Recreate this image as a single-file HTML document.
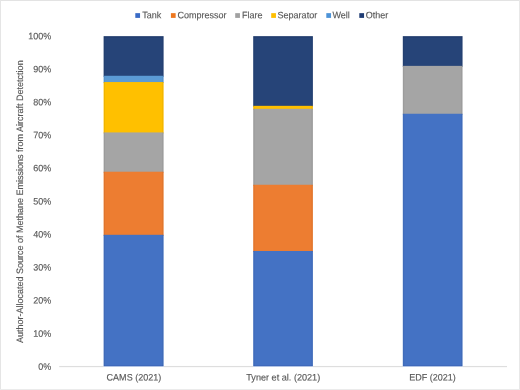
<!DOCTYPE html>
<html><head><meta charset="utf-8"><title>chart</title>
<style>
html,body{margin:0;padding:0;background:#fff;}
body{width:520px;height:390px;overflow:hidden;}
svg{display:block;position:absolute;left:0;top:0;}
text{font-family:"Liberation Sans",Arial,sans-serif;font-size:9.33px;fill:#595959;text-rendering:geometricPrecision;stroke:#595959;stroke-width:0.15px;}
</style></head><body>
<svg width="520" height="390" viewBox="0 0 520 390">
<rect x="0" y="0" width="520" height="390" fill="#fff"/>
<rect x="0" y="0" width="520" height="1" fill="#e3e3e3"/><rect x="0" y="0" width="1" height="390" fill="#e5e5e5"/><rect x="519" y="0" width="1" height="390" fill="#e8e8e8"/><rect x="0" y="389" width="520" height="1" fill="#ebebeb"/>

<rect x="59.2" y="365.95" width="447.8" height="1.2" fill="#dedede"/>
<rect x="103.6" y="366" width="60" height="2" fill="#fff"/>
<rect x="103.6" y="36.15" width="60" height="40.63" fill="#264478"/>
<rect x="103.6" y="75.78" width="60" height="7.27" fill="#5b9bd5"/>
<rect x="103.6" y="82.05" width="60" height="51.36" fill="#ffc000"/>
<rect x="103.6" y="132.42" width="60" height="40.30" fill="#a5a5a5"/>
<rect x="103.6" y="171.72" width="60" height="64.08" fill="#ed7d31"/>
<rect x="103.6" y="234.80" width="60" height="131.60" fill="#4472c4"/>
<rect x="253.2" y="366" width="59.7" height="2" fill="#fff"/>
<rect x="253.2" y="36.15" width="59.7" height="70.68" fill="#264478"/>
<rect x="253.2" y="105.83" width="59.7" height="3.97" fill="#ffc000"/>
<rect x="253.2" y="108.80" width="59.7" height="76.96" fill="#a5a5a5"/>
<rect x="253.2" y="184.76" width="59.7" height="67.22" fill="#ed7d31"/>
<rect x="253.2" y="250.98" width="59.7" height="115.42" fill="#4472c4"/>
<rect x="402.8" y="366" width="59.75" height="2" fill="#fff"/>
<rect x="402.8" y="36.15" width="59.75" height="30.72" fill="#264478"/>
<rect x="402.8" y="65.87" width="59.75" height="48.89" fill="#a5a5a5"/>
<rect x="402.8" y="113.76" width="59.75" height="252.64" fill="#4472c4"/>
<text transform="translate(51.2,369.70) rotate(0.03) scale(0.965,1)" text-anchor="end">0%</text>
<text transform="translate(51.2,336.64) rotate(0.03) scale(0.965,1)" text-anchor="end">10%</text>
<text transform="translate(51.2,303.59) rotate(0.03) scale(0.965,1)" text-anchor="end">20%</text>
<text transform="translate(51.2,270.53) rotate(0.03) scale(0.965,1)" text-anchor="end">30%</text>
<text transform="translate(51.2,237.48) rotate(0.03) scale(0.965,1)" text-anchor="end">40%</text>
<text transform="translate(51.2,204.42) rotate(0.03) scale(0.965,1)" text-anchor="end">50%</text>
<text transform="translate(51.2,171.37) rotate(0.03) scale(0.965,1)" text-anchor="end">60%</text>
<text transform="translate(51.2,138.31) rotate(0.03) scale(0.965,1)" text-anchor="end">70%</text>
<text transform="translate(51.2,105.26) rotate(0.03) scale(0.965,1)" text-anchor="end">80%</text>
<text transform="translate(51.2,72.20) rotate(0.03) scale(0.965,1)" text-anchor="end">90%</text>
<text transform="translate(51.2,39.15) rotate(0.03) scale(0.965,1)" text-anchor="end">100%</text>
<rect x="103.89999999999999" y="36.449999999999996" width="1.1" height="329.65" fill="#000" fill-opacity="0.06"/>
<rect x="162.20" y="36.449999999999996" width="1.1" height="329.65" fill="#000" fill-opacity="0.06"/>
<rect x="103.89999999999999" y="36.449999999999996" width="59.40" height="1.1" fill="#000820" fill-opacity="0.14"/>
<rect x="103.89999999999999" y="365.10" width="59.40" height="1.0" fill="#001050" fill-opacity="0.08"/>
<rect x="253.5" y="36.449999999999996" width="1.1" height="329.65" fill="#000" fill-opacity="0.06"/>
<rect x="311.50" y="36.449999999999996" width="1.1" height="329.65" fill="#000" fill-opacity="0.06"/>
<rect x="253.5" y="36.449999999999996" width="59.10" height="1.1" fill="#000820" fill-opacity="0.14"/>
<rect x="253.5" y="365.10" width="59.10" height="1.0" fill="#001050" fill-opacity="0.08"/>
<rect x="403.1" y="36.449999999999996" width="1.1" height="329.65" fill="#000" fill-opacity="0.06"/>
<rect x="461.15" y="36.449999999999996" width="1.1" height="329.65" fill="#000" fill-opacity="0.06"/>
<rect x="403.1" y="36.449999999999996" width="59.15" height="1.1" fill="#000820" fill-opacity="0.14"/>
<rect x="403.1" y="365.10" width="59.15" height="1.0" fill="#001050" fill-opacity="0.08"/>
<rect x="135.3" y="13.15" width="4.75" height="4.75" fill="#3a6bc6"/><text transform="translate(142.3,18.3) rotate(0.03) scale(0.965,1)">Tank</text>
<rect x="170.9" y="13.15" width="4.75" height="4.75" fill="#ee771f"/><text transform="translate(177.6,18.3) rotate(0.03) scale(0.965,1)">Compressor</text>
<rect x="235.2" y="13.15" width="4.75" height="4.75" fill="#a1a1a1"/><text transform="translate(241.9,18.3) rotate(0.03) scale(0.965,1)">Flare</text>
<rect x="271.2" y="13.15" width="4.75" height="4.75" fill="#ffbf00"/><text transform="translate(277.6,18.3) rotate(0.03) scale(0.965,1)">Separator</text>
<rect x="326.3" y="13.15" width="4.75" height="4.75" fill="#4d93d7"/><text transform="translate(332.5,18.3) rotate(0.03) scale(0.965,1)">Well</text>
<rect x="359.3" y="13.15" width="4.75" height="4.75" fill="#1f3c74"/><text transform="translate(365.8,18.3) rotate(0.03) scale(0.965,1)">Other</text>
<text transform="translate(133.9,380.5) rotate(0.03) scale(0.967,1)" text-anchor="middle">CAMS (2021)</text>
<text transform="translate(283.25,380.5) rotate(0.03) scale(0.976,1)" text-anchor="middle">Tyner et al. (2021)</text>
<text transform="translate(432.6,380.5) rotate(0.03) scale(0.965,1)" text-anchor="middle">EDF (2021)</text>
<text transform="translate(22.65,201.7) rotate(-90) scale(0.965,1)" text-anchor="middle">Author-Allocated Source of Methane Emissions from Aircraft Detetction</text>
</svg>
</body></html>
